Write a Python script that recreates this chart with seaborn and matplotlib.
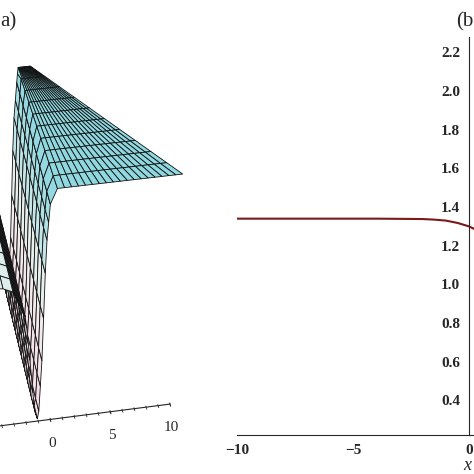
import numpy as np
import matplotlib
matplotlib.use("Agg")
import matplotlib.pyplot as plt
from matplotlib.colors import LinearSegmentedColormap
import seaborn as sns

sns.set_style("white")
plt.rcParams["font.family"] = ["Liberation Serif", "DejaVu Serif"]

# panel (a): profile across x; plateau ends at right_edge for each t
prof_x = [-10, -6, -4, -3, -2, -1.6, -1.3, -1.0, -0.7, -0.4, 0, 5, 10]
prof_u = [1.3, 1.3, 1.3, 1.25, 1.0, 0.5, 0.1, 0.0, 0.6, 1.6, 2.1, 2.1, 2.1]
t_vals = [0, 1, 2, 3, 4, 5, 6, 7, 8, 9, 10]
right_edge = [10, 9.1, 8.2, 7.3, 6.4, 5.5, 4.6, 3.7, 2.8, 1.9, 1.0]

# panel (b): curve
line_x = [-10, -6, -4, -2, -1.5, -1, -0.5, 0, 0.5]
line_y = [1.34, 1.34, 1.34, 1.338, 1.335, 1.33, 1.318, 1.30, 1.27]

fig = plt.figure(figsize=(4.74, 4.74), dpi=100)

# ---- 3D panel
pale = LinearSegmentedColormap.from_list("pale", ["#f4d8e4", "#f2f2ee", "#8fd8e0"])
ax3 = fig.add_axes([-0.4, 0.02, 0.92, 0.92], projection="3d")
s = np.linspace(0, 1, 20)
rows_x, rows_u = [], []
for re in right_edge:
    xr = np.concatenate([np.linspace(-10, -3, 10), np.linspace(-2.9, -0.1, 24), -0.1 + s * (re + 0.1)])
    rows_x.append(xr)
    rows_u.append(np.interp(xr, prof_x, prof_u))
X = np.array(rows_x)
U = np.array(rows_u)
T = np.tile(np.array(t_vals, dtype=float)[:, None], (1, X.shape[1]))
ax3.plot_surface(X, T, U, cmap=pale, vmin=0, vmax=2.1, edgecolor="#111111",
                 linewidth=0.6, rstride=1, cstride=1, shade=False)
ax3.view_init(elev=42, azim=-100)
ax3.set_xlim(-10, 10)
ax3.set_ylim(0, 10)
ax3.set_zlim(0, 2.2)
ax3.set_box_aspect((2.0, 1.5, 2.6))
for axis in (ax3.xaxis, ax3.yaxis, ax3.zaxis):
    axis.set_pane_color((1, 1, 1, 0))
    axis._axinfo["grid"]["linewidth"] = 0
ax3.yaxis.line.set_color((1, 1, 1, 0))
ax3.zaxis.line.set_color((1, 1, 1, 0))
ax3.set_yticks([])
ax3.set_zticks([])
ax3.set_xticks([-10, -5, 0, 5, 10])
ax3.set_xticks(np.arange(-10, 10.1, 1), minor=True)
ax3.tick_params(axis="x", labelsize=11, pad=0)
fig.text(0.0, 0.975, "a)", fontsize=15, va="top")

# ---- 2D panel
ax = fig.add_axes([0.5, 0.082, 0.979, 0.84])
ax.plot(line_x, line_y, color="#7a1a1a", linewidth=1.5)
ax.set_xlim(-10, 10)
ax.set_ylim(0.22, 2.28)
ax.spines["left"].set_position(("data", 0))
ax.spines["right"].set_visible(False)
ax.spines["top"].set_visible(False)
ax.set_xticks([-10, -5, 0])
ax.set_xticks(np.arange(-10, 0.1, 1), minor=True)
ax.set_yticks([0.4, 0.6, 0.8, 1.0, 1.2, 1.4, 1.6, 1.8, 2.0, 2.2])
ax.set_yticks(np.arange(0.3, 2.25, 0.1), minor=True)
ax.set_yticklabels(["0.4", "0.6", "0.8", "1.0", "1.2", "1.4", "1.6", "1.8", "2.0", "2.2"])
ax.tick_params(which="both", direction="out", length=3, labelsize=11)
ax.tick_params(which="minor", length=2)
for lab in ax.get_xticklabels() + ax.get_yticklabels():
    lab.set_fontweight("bold")
ax.patch.set_alpha(0)
fig.text(0.962, 0.975, "(b", fontsize=15, va="top")
fig.text(0.985, 0.0, "x", fontsize=13, style="italic", ha="center", va="bottom")

fig.savefig("out.png", dpi=100)
